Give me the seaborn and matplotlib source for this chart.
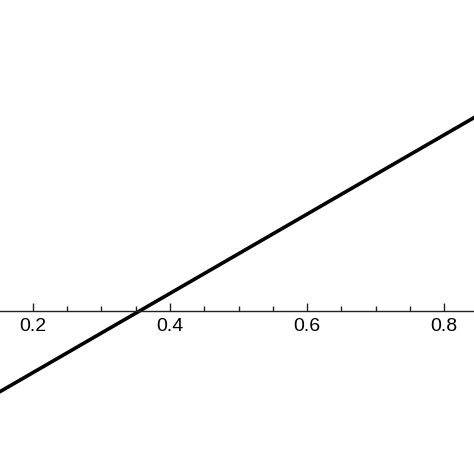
import matplotlib
matplotlib.use("Agg")
import matplotlib.pyplot as plt
from matplotlib.ticker import MultipleLocator
import seaborn as sns
import pandas as pd

# line endpoints
x_vals = [0.15, 0.85]
y_vals = [-0.1193, 0.2853]
x_ticks = [0.2, 0.4, 0.6, 0.8]
x_tick_labels = ["0.2", "0.4", "0.6", "0.8"]

df = pd.DataFrame({"x": x_vals, "y": y_vals})

sns.set_style("white")
plt.rcParams['font.family'] = ['Liberation Sans', 'DejaVu Sans']

fig = plt.figure(figsize=(4.74, 4.74), dpi=100)
ax = fig.add_axes([0, 0, 1, 1])

sns.lineplot(data=df, x="x", y="y", color="black", linewidth=2.6, ax=ax)

ax.set_xlim(0.1523, 0.8433)
ax.set_ylim(-0.238, 0.4529)

for s in ["top", "right", "left"]:
    ax.spines[s].set_visible(False)
ax.spines["bottom"].set_position(("data", 0))
ax.spines["bottom"].set_color("#222222")
ax.spines["bottom"].set_linewidth(1.0)

ax.set_xticks(x_ticks)
ax.set_xticklabels(x_tick_labels)
ax.xaxis.set_minor_locator(MultipleLocator(0.05))
ax.tick_params(axis="x", which="major", direction="in", length=5.5, width=1.0,
               color="#222222", labelsize=14, labelcolor="black", pad=5, bottom=True)
ax.tick_params(axis="x", which="minor", direction="in", length=3.5, width=1.0,
               color="#222222", bottom=True)
ax.set_yticks([])
ax.set_xlabel("")
ax.set_ylabel("")

fig.savefig("out.png", dpi=100)
